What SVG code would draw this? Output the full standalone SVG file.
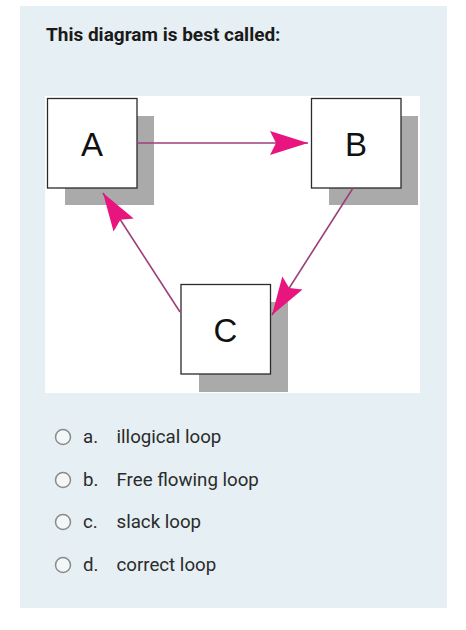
<svg xmlns="http://www.w3.org/2000/svg" width="466" height="630" viewBox="0 0 466 630">
<defs>
<style>
.shadow{fill:#aaaaaa}
.box{fill:#ffffff;stroke:#2a2a2a;stroke-width:1.3}
.lbl{font-family:"Liberation Sans",Arial,sans-serif;font-size:33px;fill:#111;text-anchor:middle}
.conn{stroke:#9c3f78;stroke-width:1.6;fill:none}
.opt{font-family:Roboto,"Liberation Sans",sans-serif;font-size:18.7px;fill:#2b2b2b}
.radio{fill:#f4f7f8;stroke:#8a8a8a;stroke-width:1.5}
</style>
<marker id="ah" markerUnits="userSpaceOnUse" viewBox="-40 -13 42 26" refX="0" refY="0" markerWidth="42" markerHeight="26" orient="auto">
<path d="M0,0 L-38,-12 L-32,0 L-38,12 Z" fill="#e8157f"/>
</marker>
</defs>
<rect x="0" y="0" width="466" height="630" fill="#ffffff"/>
<rect x="20" y="6" width="427" height="602" fill="#e6eff3"/>
<text x="46" y="41" font-family="Roboto,'Liberation Sans',sans-serif" font-weight="bold" font-size="19" fill="#1a1a1a">This diagram is best called:</text>
<rect x="45" y="96" width="375" height="297" fill="#ffffff"/>
<g id="node-A">
<rect class="shadow" x="65" y="116" width="89" height="89"/>
<rect class="box" x="47.5" y="98.5" width="89.5" height="89.5"/>
<text class="lbl" x="92" y="155.5">A</text>
</g>
<g id="node-B">
<rect class="shadow" x="329" y="116" width="89" height="89"/>
<rect class="box" x="311.5" y="98.5" width="89.5" height="89.5"/>
<text class="lbl" x="356" y="155.5">B</text>
</g>
<g id="node-C">
<rect class="shadow" x="199" y="302" width="89" height="90"/>
<rect class="box" x="181" y="284.5" width="89.5" height="89.5"/>
<text class="lbl" x="225.5" y="341.5">C</text>
</g>
<g id="connectors">
<line class="conn" x1="137" y1="143" x2="308" y2="143" marker-end="url(#ah)"/>
<line class="conn" x1="353" y1="188" x2="272" y2="315" marker-end="url(#ah)"/>
<line class="conn" x1="180" y1="312" x2="103" y2="193" marker-end="url(#ah)"/>
</g>
<g id="options">
<circle class="radio" cx="63" cy="437" r="7.5"/>
<text class="opt" x="83" y="443">a.</text>
<text class="opt" x="116.5" y="443">illogical loop</text>
<circle class="radio" cx="63" cy="480" r="7.5"/>
<text class="opt" x="83" y="486">b.</text>
<text class="opt" x="116.5" y="486">Free flowing loop</text>
<circle class="radio" cx="63" cy="522" r="7.5"/>
<text class="opt" x="83" y="528">c.</text>
<text class="opt" x="116.5" y="528">slack loop</text>
<circle class="radio" cx="63" cy="565" r="7.5"/>
<text class="opt" x="83" y="571">d.</text>
<text class="opt" x="116.5" y="571">correct loop</text>
</g>
</svg>
